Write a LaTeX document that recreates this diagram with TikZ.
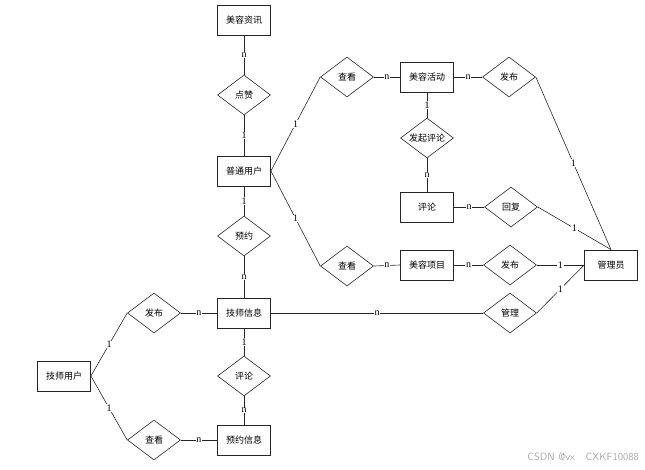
\documentclass[tikz,border=0pt]{standalone}
\usepackage{fontspec}
\newfontfamily\cjk{Noto Sans CJK SC}
\setmainfont{Liberation Serif}
\usetikzlibrary{shapes.geometric}
\tikzset{
  ent/.style={draw=black!85, line width=0.8pt, minimum width=53pt, minimum height=30pt, inner sep=0pt, font=\cjk\fontsize{9}{9}\selectfont},
  rel/.style={draw=black!85, line width=0.6pt, diamond, aspect=1.3, minimum width=53pt, minimum height=40pt, inner sep=0pt, font=\cjk\fontsize{9}{9}\selectfont},
  ln/.style={draw=black!85, line width=0.6pt},
  card/.style={fill=white, inner sep=0.6pt, font=\fontsize{10}{10}\selectfont}
}
\begin{document}
\begin{tikzpicture}[x=1pt,y=-1pt]
\useasboundingbox (0,0) rectangle (645,469);
% entities
\node[ent] (zx) at (244,20) {美容资讯};
\node[ent] (pt) at (244,171) {普通用户};
\node[ent] (jsxx) at (244,313) {技师信息};
\node[ent] (yyxx) at (244,440) {预约信息};
\node[ent] (jsyh) at (64,376) {技师用户};
\node[ent] (hd) at (427,77) {美容活动};
\node[ent] (pl) at (427,207) {评论};
\node[ent] (xm) at (427,265) {美容项目};
\node[ent] (gly) at (611,265) {管理员};
% relationships
\node[rel] (dz) at (244,95) {点赞};
\node[rel] (yy) at (244,236) {预约};
\node[rel] (plr) at (244,376) {评论};
\node[rel] (fbL) at (154,313) {发布};
\node[rel] (ckL) at (154,440) {查看};
\node[rel] (ckT) at (347,77) {查看};
\node[rel] (fbT) at (509,77) {发布};
\node[rel] (fqpl) at (427,138) {发起评论};
\node[rel] (hf) at (511,207) {回复};
\node[rel] (ckM) at (347,266) {查看};
\node[rel] (fbM) at (510,265) {发布};
\node[rel] (gl) at (510,313) {管理};
% connectors
\draw[ln] (zx.south) -- node[card]{n} (dz.north);
\draw[ln] (dz.south) -- node[card]{1} (pt.north);
\draw[ln] (pt.east) -- node[card]{1} (ckT.west);
\draw[ln] (pt.east) -- node[card]{1} (ckM.west);
\draw[ln] (ckT.east) -- node[card]{n} (hd.west);
\draw[ln] (hd.east) -- node[card]{n} (fbT.west);
\draw[ln] (fbT.east) -- node[card]{1} (gly.north);
\draw[ln] (hd.south) -- node[card]{1} (fqpl.north);
\draw[ln] (fqpl.south) -- node[card]{n} (pl.north);
\draw[ln] (pl.east) -- node[card]{n} (hf.west);
\draw[ln] (hf.east) -- node[card]{1} (gly.north);
\draw[ln] (ckM.east) -- node[card]{n} (xm.west);
\draw[ln] (xm.east) -- node[card]{n} (fbM.west);
\draw[ln] (fbM.east) -- node[card]{1} (gly.west);
\draw[ln] (jsxx.east) -- node[card]{n} (gl.west);
\draw[ln] (gl.east) -- node[card]{1} (gly.west);
\draw[ln] (pt.south) -- node[card]{1} (yy.north);
\draw[ln] (yy.south) -- node[card]{n} (jsxx.north);
\draw[ln] (jsxx.south) -- node[card]{1} (plr.north);
\draw[ln] (plr.south) -- node[card]{n} (yyxx.north);
\draw[ln] (jsyh.east) -- node[card]{1} (fbL.west);
\draw[ln] (jsyh.east) -- node[card]{1} (ckL.west);
\draw[ln] (fbL.east) -- node[card]{n} (jsxx.west);
\draw[ln] (ckL.east) -- node[card]{n} (yyxx.west);
% watermark
\node[text=black!35, font=\fontsize{10.5}{10.5}\selectfont\sffamily, anchor=east, inner sep=0pt] (wm) at (639,457) {CSDN @vx\quad CXKF10088};
\end{tikzpicture}
\end{document}
